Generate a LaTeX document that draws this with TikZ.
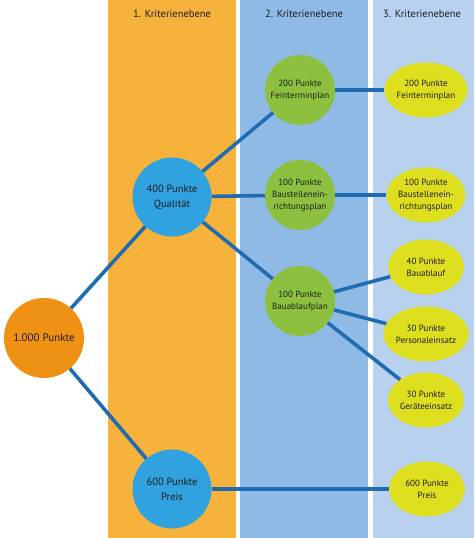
\documentclass[tikz,border=0pt]{standalone}
\usepackage{fontspec}
\setmainfont{PT Sans}
\usepackage{tikz}
\usetikzlibrary{shapes.geometric}

\definecolor{spalteA}{HTML}{F7B23B}
\definecolor{spalteB}{HTML}{8FBAE5}
\definecolor{spalteC}{HTML}{B7D1EF}
\definecolor{orangeK}{HTML}{EF9112}
\definecolor{blauK}{HTML}{2FA2DF}
\definecolor{gruenK}{HTML}{8CC03E}
\definecolor{gelbK}{HTML}{DDDE1D}
\definecolor{linie}{HTML}{1F6CB2}
\definecolor{schrift}{HTML}{1E1E1E}

\tikzset{
  kopf/.style={text=schrift,font=\fontsize{10.5}{12}\selectfont},
  knoten/.style={circle,inner sep=0pt,align=center,text=schrift},
  wurzel/.style={knoten,fill=orangeK,minimum size=80pt,font=\fontsize{11}{13}\selectfont},
  ebeneA/.style={knoten,fill=blauK,minimum size=79pt,font=\fontsize{10.5}{15}\selectfont},
  ebeneB/.style={knoten,fill=gruenK,minimum size=70pt,font=\fontsize{9}{12}\selectfont},
  ebeneC/.style={ellipse,inner sep=0pt,align=center,text=schrift,fill=gelbK,
    minimum width=76pt,minimum height=55pt,font=\fontsize{9}{12}\selectfont},
  verb/.style={linie,line width=3.6pt}
}

\begin{document}
\begin{tikzpicture}[x=1pt,y=-1pt]
\useasboundingbox (0,0) rectangle (474,538);
% Spalten
\fill[spalteA] (108,0) rectangle (236,538);
\fill[spalteB] (240,0) rectangle (368,538);
\fill[spalteC] (373,0) rectangle (474,538);
\node[kopf] (k1) at (172,14) {1. Kriterienebene};
\node[kopf] (k2) at (304,14) {2. Kriterienebene};
\node[kopf] (k3) at (422,14) {3. Kriterienebene};
% Knoten
\node[wurzel] (P) at (44,338) {1.000 Punkte};
\node[ebeneA] (Q) at (172,197) {400 Punkte\\Qualität};
\node[ebeneA] (R) at (172,489) {600 Punkte\\Preis};
\node[ebeneB] (F) at (300,90) {200 Punkte\\Feinterminplan};
\node[ebeneB] (B) at (300,195) {100 Punkte\\Baustellenein-\\richtungsplan};
\node[ebeneB] (A) at (300,301) {100 Punkte\\Bauablaufplan};
\node[ebeneC] (F1) at (426,90) {200 Punkte\\Feinterminplan};
\node[ebeneC] (B1) at (426,195) {100 Punkte\\Baustellenein-\\richtungsplan};
\node[ebeneC] (A1) at (426,267) {40 Punkte\\Bauablauf};
\node[ebeneC] (A2) at (426,334) {30 Punkte\\Personaleinsatz};
\node[ebeneC] (A3) at (426,400) {30 Punkte\\Geräteeinsatz};
\node[ebeneC] (R1) at (427,489) {600 Punkte\\Preis};
% Verbindungen
\draw[verb] (P) -- (Q);
\draw[verb] (P) -- (R);
\draw[verb] (Q) -- (F);
\draw[verb] (Q) -- (B);
\draw[verb] (Q) -- (A);
\draw[verb] (F) -- (F1);
\draw[verb] (B) -- (B1);
\draw[verb] (A) -- (A1);
\draw[verb] (A) -- (A2);
\draw[verb] (A) -- (A3);
\draw[verb] (R) -- (R1);
\end{tikzpicture}
\end{document}
